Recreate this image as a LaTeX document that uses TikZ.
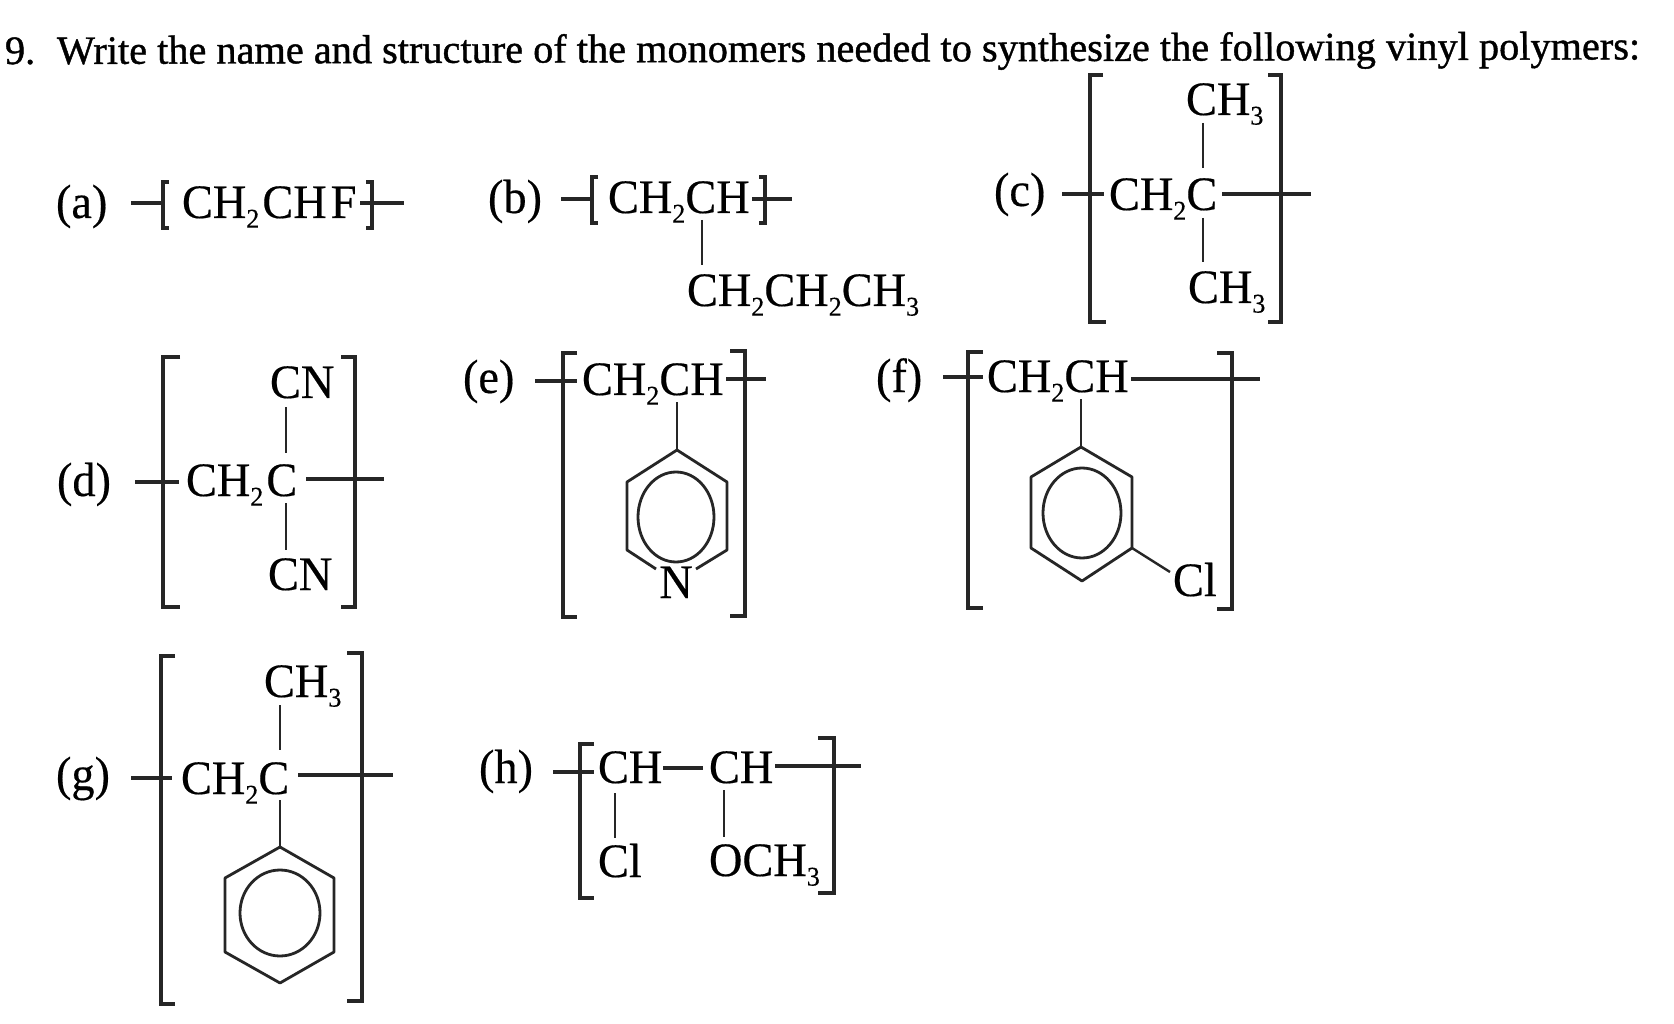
\documentclass[tikz,border=0pt]{standalone}
\usepackage{fontspec}
\setmainfont{Liberation Serif}
\newfontfamily\heavy[FakeBold=1.0]{Liberation Serif}
\newfontfamily\chemf[FakeBold=0.35,FakeStretch=0.965]{Liberation Serif}
\newcommand{\lo}[1]{\raisebox{-0.2em}{\fontsize{27}{27}\selectfont #1}}
\tikzset{
  chem/.style={anchor=base west,inner sep=0pt,outer sep=0pt,font=\chemf\fontsize{48}{48}\selectfont},
  tag/.style={anchor=base west,inner sep=0pt,outer sep=0pt,font=\chemf\fontsize{48}{48}\selectfont},
  head/.style={anchor=base west,inner sep=0pt,outer sep=0pt,rotate=0.17,font=\heavy\fontsize{40.3}{41}\selectfont},
  chain/.style={line width=3.2pt,black!85},
  bond/.style={line width=2.4pt,black!85},
  brack/.style={line width=3.4pt,black!85,line join=miter},
  ring/.style={line width=2.8pt,black!85,line join=round},
}
\begin{document}
\begin{tikzpicture}[x=1pt,y=-1pt]
\useasboundingbox (0,0) rectangle (1674,1024);
\fill[white] (0,0) rectangle (1674,1024);
% title
\node[head] (num) at (5,64) {9.};
\node[head] (title) at (57,64) {Write the name and structure of the monomers needed to synthesize the following vinyl polymers:};
% (a)
\node[tag] (la) at (56,218) {(a)};
\node[chem] (ta) at (182,218) {CH\lo{2}\kern3pt CH\kern4pt F};
\coordinate (a1) at (131,203); \coordinate (a2) at (163,203);
\coordinate (a3) at (360,203); \coordinate (a4) at (404,203);
\draw[chain] (a1) -- (a2);
\draw[chain] (a3) -- (a4);
\draw[brack] (169,182) -- (163,182) -- (163,228) -- (169,228);
\draw[brack] (366,182) -- (372,182) -- (372,228) -- (366,228);
% (b)
\node[tag] (lb) at (488,213) {(b)};
\node[chem] (tb) at (608,213) {CH\lo{2}CH};
\node[chem] (rb) at (687,306) {CH\lo{2}CH\lo{2}CH\lo{3}};
\coordinate (b1) at (561,199); \coordinate (b2) at (592,199);
\coordinate (b3) at (752,199); \coordinate (b4) at (792,199);
\coordinate (b5) at (702,220); \coordinate (b6) at (702,265);
\draw[chain] (b1) -- (b2);
\draw[chain] (b3) -- (b4);
\draw[bond] (b5) -- (b6);
\draw[brack] (598,177) -- (592,177) -- (592,223) -- (598,223);
\draw[brack] (759,177) -- (765,177) -- (765,223) -- (759,223);
% (c)
\node[tag] (lc) at (994,206) {(c)};
\node[chem] (tc) at (1109,210) {CH\lo{2}C};
\node[chem] (c3a) at (1186,115) {CH\lo{3}};
\node[chem] (c3b) at (1188,303) {CH\lo{3}};
\coordinate (c1) at (1062,194); \coordinate (c2) at (1104,194);
\coordinate (c3) at (1222,194); \coordinate (c4) at (1311,194);
\coordinate (c5) at (1203,123); \coordinate (c6) at (1203,168);
\coordinate (c7) at (1203,218); \coordinate (c8) at (1203,262);
\draw[chain] (c1) -- (c2);
\draw[chain] (c3) -- (c4);
\draw[bond] (c5) -- (c6);
\draw[bond] (c7) -- (c8);
\draw[brack] (1103,75) -- (1090,75) -- (1090,322) -- (1106,322);
\draw[brack] (1268,75) -- (1281,75) -- (1281,322) -- (1268,322);
% (d)
\node[tag] (ld) at (57,496) {(d)};
\node[chem] (td) at (186,496) {CH\lo{2}\kern3pt C};
\node[chem] (d3a) at (270,398) {CN};
\node[chem] (d3b) at (268,590) {CN};
\coordinate (d1) at (135,482); \coordinate (d2) at (179,482);
\coordinate (d3) at (306,479); \coordinate (d4) at (384,479);
\coordinate (d5) at (286,407); \coordinate (d6) at (286,453);
\coordinate (d7) at (286,503); \coordinate (d8) at (286,550);
\draw[chain] (d1) -- (d2);
\draw[chain] (d3) -- (d4);
\draw[bond] (d5) -- (d6);
\draw[bond] (d7) -- (d8);
\draw[brack] (180,357) -- (163,357) -- (163,607) -- (180,607);
\draw[brack] (341,357) -- (355,357) -- (355,607) -- (341,607);
% (e)
\node[tag] (le) at (463,393) {(e)};
\node[chem] (te) at (582,395) {CH\lo{2}CH};
\node[chem,anchor=base] (ne) at (676,598) {N};
\coordinate (e1) at (535,381); \coordinate (e2) at (577,381);
\coordinate (e3) at (726,379); \coordinate (e4) at (766,379);
\coordinate (e5) at (677,402); \coordinate (e6) at (677,450);
\draw[chain] (e1) -- (e2);
\draw[chain] (e3) -- (e4);
\draw[bond] (e5) -- (e6);
\draw[brack] (577,353) -- (563,353) -- (563,617) -- (577,617);
\draw[brack] (730,351) -- (745,351) -- (745,616) -- (730,616);
\draw[ring] (656,569) -- (627,550) -- (627,482) -- (e6) -- (727,482) -- (727,550) -- (696,569);
\draw[ring] (676,517) ellipse (38 and 45);
% (f)
\node[tag] (lf) at (876,392) {(f)};
\node[chem] (tf) at (987,392) {CH\lo{2}CH};
\node[chem] (cf) at (1173,596) {Cl};
\coordinate (f1) at (943,377); \coordinate (f2) at (983,377);
\coordinate (f3) at (1131,379); \coordinate (f4) at (1260,379);
\coordinate (f5) at (1081,399); \coordinate (f6) at (1081,447);
\coordinate (f7) at (1132,548); \coordinate (f8) at (1170,572);
\draw[chain] (f1) -- (f2);
\draw[chain] (f3) -- (f4);
\draw[bond] (f5) -- (f6);
\draw[bond] (f7) -- (f8);
\draw[brack] (983,352) -- (968,352) -- (968,608) -- (983,608);
\draw[brack] (1217,353) -- (1232,353) -- (1232,609) -- (1217,609);
\draw[ring] (f6) -- (1132,477) -- (f7) -- (1082,581) -- (1031,548) -- (1031,477) -- cycle;
\draw[ring] (1082,513) ellipse (39 and 45);
% (g)
\node[tag] (lg) at (56,790) {(g)};
\node[chem] (tg) at (181,794) {CH\lo{2}C};
\node[chem] (g3) at (264,697) {CH\lo{3}};
\coordinate (g1) at (131,778); \coordinate (g2) at (172,778);
\coordinate (g3a) at (298,775); \coordinate (g4) at (393,775);
\coordinate (g5) at (280,705); \coordinate (g6) at (280,750);
\coordinate (g7) at (280,800); \coordinate (g8) at (280,847);
\draw[chain] (g1) -- (g2);
\draw[chain] (g3a) -- (g4);
\draw[bond] (g5) -- (g6);
\draw[bond] (g7) -- (g8);
\draw[brack] (175,656) -- (161,656) -- (161,1004) -- (175,1004);
\draw[brack] (347,653) -- (362,653) -- (362,1001) -- (347,1001);
\draw[ring] (g8) -- (334,878) -- (334,952) -- (280,983) -- (225,952) -- (225,878) -- cycle;
\draw[ring] (280,913) ellipse (40 and 43);
% (h)
\node[tag] (lh) at (479,783) {(h)};
\node[chem] (th1) at (598,783) {CH};
\node[chem] (th2) at (709,783) {CH};
\node[chem] (hcl) at (598,877) {Cl};
\node[chem] (hoc) at (709,876) {OCH\lo{3}};
\coordinate (h1) at (553,772); \coordinate (h2) at (594,772);
\coordinate (h3) at (663,768); \coordinate (h4) at (703,768);
\coordinate (h5) at (775,766); \coordinate (h6) at (861,766);
\coordinate (h7) at (615,793); \coordinate (h8) at (615,838);
\coordinate (h9) at (724,790); \coordinate (h10) at (724,837);
\draw[chain] (h1) -- (h2);
\draw[chain] (h3) -- (h4);
\draw[chain] (h5) -- (h6);
\draw[bond] (h7) -- (h8);
\draw[bond] (h9) -- (h10);
\draw[brack] (594,744) -- (580,744) -- (580,898) -- (594,898);
\draw[brack] (818,738) -- (834,738) -- (834,893) -- (818,893);
\end{tikzpicture}
\end{document}
